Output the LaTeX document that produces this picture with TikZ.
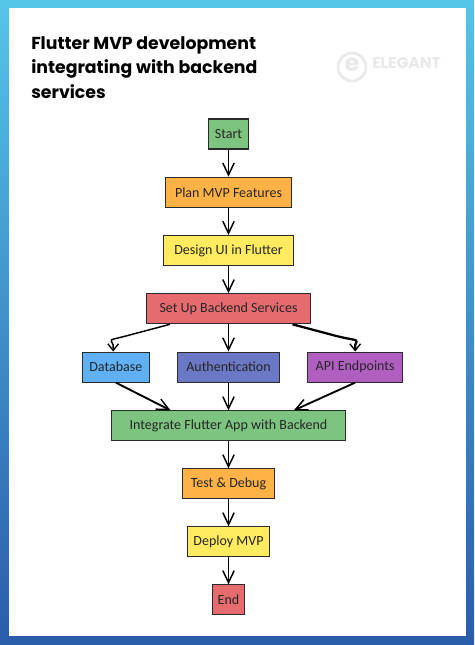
\documentclass[tikz,border=0pt]{standalone}
\usepackage{fontspec}
\setmainfont{Carlito}
\newfontfamily\titlefont{Poppins}
\usepackage{xcolor}
\usetikzlibrary{arrows.meta,positioning}

\definecolor{bgtop}{HTML}{55C5E8}
\definecolor{bgbottom}{HTML}{2A5CAA}
\definecolor{startgreen}{HTML}{7CC47F}
\definecolor{planorange}{HTML}{FFB347}
\definecolor{uiyellow}{HTML}{FFEB60}
\definecolor{backendred}{HTML}{E56B6F}
\definecolor{dbblue}{HTML}{5FB0F5}
\definecolor{authindigo}{HTML}{6B78C5}
\definecolor{apipurple}{HTML}{B05FC0}
\definecolor{boxline}{HTML}{2B2B2B}
\definecolor{logogrey}{HTML}{E9E9E9}

\begin{document}
\begin{tikzpicture}[x=0.75pt,y=-0.75pt,
flowbox/.style={draw=boxline, line width=0.8pt, minimum height=22.5pt, inner sep=0pt, align=center, text=black!85, font=\fontsize{10.5}{12}\selectfont},
arr/.style={-{Straight Barb[length=9pt,width=8.5pt,line width=1.1pt]}, line width=1.4pt, black},
bendarr/.style={-{Straight Barb[length=5pt,width=8pt,line width=1pt]}, black}
]
\useasboundingbox (0,0) rectangle (474,645);
% Frame
\shade[top color=bgtop, bottom color=bgbottom] (0,0) rectangle (474,645);
\fill[white] (8.5,8.5) rectangle (465.5,636);

% Title
\node[anchor=north west, inner sep=0pt, align=left, font=\titlefont\bfseries\fontsize{13}{18.4}\selectfont] (title) at (31,36) {Flutter MVP development\\integrating with backend\\services};

% Watermark
\draw[logogrey, line width=2pt] (352,67) circle (14);
\node[logogrey, inner sep=0pt, font=\titlefont\bfseries\fontsize{18}{18}\selectfont] (logomark) at (352,65) {e};
\node[logogrey, anchor=west, inner sep=0pt, font=\titlefont\bfseries\fontsize{11.7}{12}\selectfont] (logoname) at (372,63) {ELEGANT};

% Main column
\node[flowbox, fill=startgreen, minimum width=30pt] (start) at (228.5,134) {Start};
\node[flowbox, fill=planorange, minimum width=94pt, below=20.4pt of start] (plan) {Plan MVP Features};
\node[flowbox, fill=uiyellow, minimum width=98pt, below=20.4pt of plan] (design) {Design UI in Flutter};
\node[flowbox, fill=backendred, minimum width=123pt, below=20.4pt of design] (setup) {Set Up Backend Services};

% Service row
\node[flowbox, fill=authindigo, minimum width=77pt, below=20.4pt of setup] (auth) {Authentication};
\node[flowbox, fill=dbblue, minimum width=50pt, left=20.2pt of auth] (db) {Database};
\node[flowbox, fill=apipurple, minimum width=71pt, right=20.2pt of auth] (api) {API Endpoints};

% Lower column
\node[flowbox, fill=startgreen, minimum width=175pt, below=20.8pt of auth] (integrate) {Integrate Flutter App with Backend};
\node[flowbox, fill=planorange, minimum width=69pt, below=20.2pt of integrate] (test) {Test \& Debug};
\node[flowbox, fill=uiyellow, minimum width=62pt, below=20.2pt of test] (deploy) {Deploy MVP};
\node[flowbox, fill=backendred, minimum width=24pt, below=20.2pt of deploy] (end) {End};

% Flow arrows
\draw[arr] (start) -- (plan);
\draw[arr] (plan) -- (design);
\draw[arr] (design) -- (setup);
\draw[bendarr, line width=1.1pt] ([xshift=-44pt]setup.south) -- ++(-32pt,-8.5pt) .. controls ++(-15pt,-4pt) and ([xshift=-4pt,yshift=10pt]db.north) .. ([xshift=-2pt,yshift=5pt]db.north) -- ([xshift=-2pt]db.north);
\draw[arr] (setup) -- (auth);
\draw[bendarr, line width=1.7pt] ([xshift=48pt]setup.south) -- ++(32pt,-8.5pt) .. controls ++(15pt,-4pt) and ([xshift=3pt,yshift=10pt]api.north) .. ([yshift=5pt]api.north) -- (api.north);
\draw[arr] (db.south) -- ([xshift=-43.5pt]integrate.north);
\draw[arr] (auth) -- (integrate);
\draw[arr] (api.south) -- ([xshift=49pt]integrate.north);
\draw[arr] (integrate) -- (test);
\draw[arr] (test) -- (deploy);
\draw[arr] (deploy) -- (end);
\end{tikzpicture}
\end{document}
